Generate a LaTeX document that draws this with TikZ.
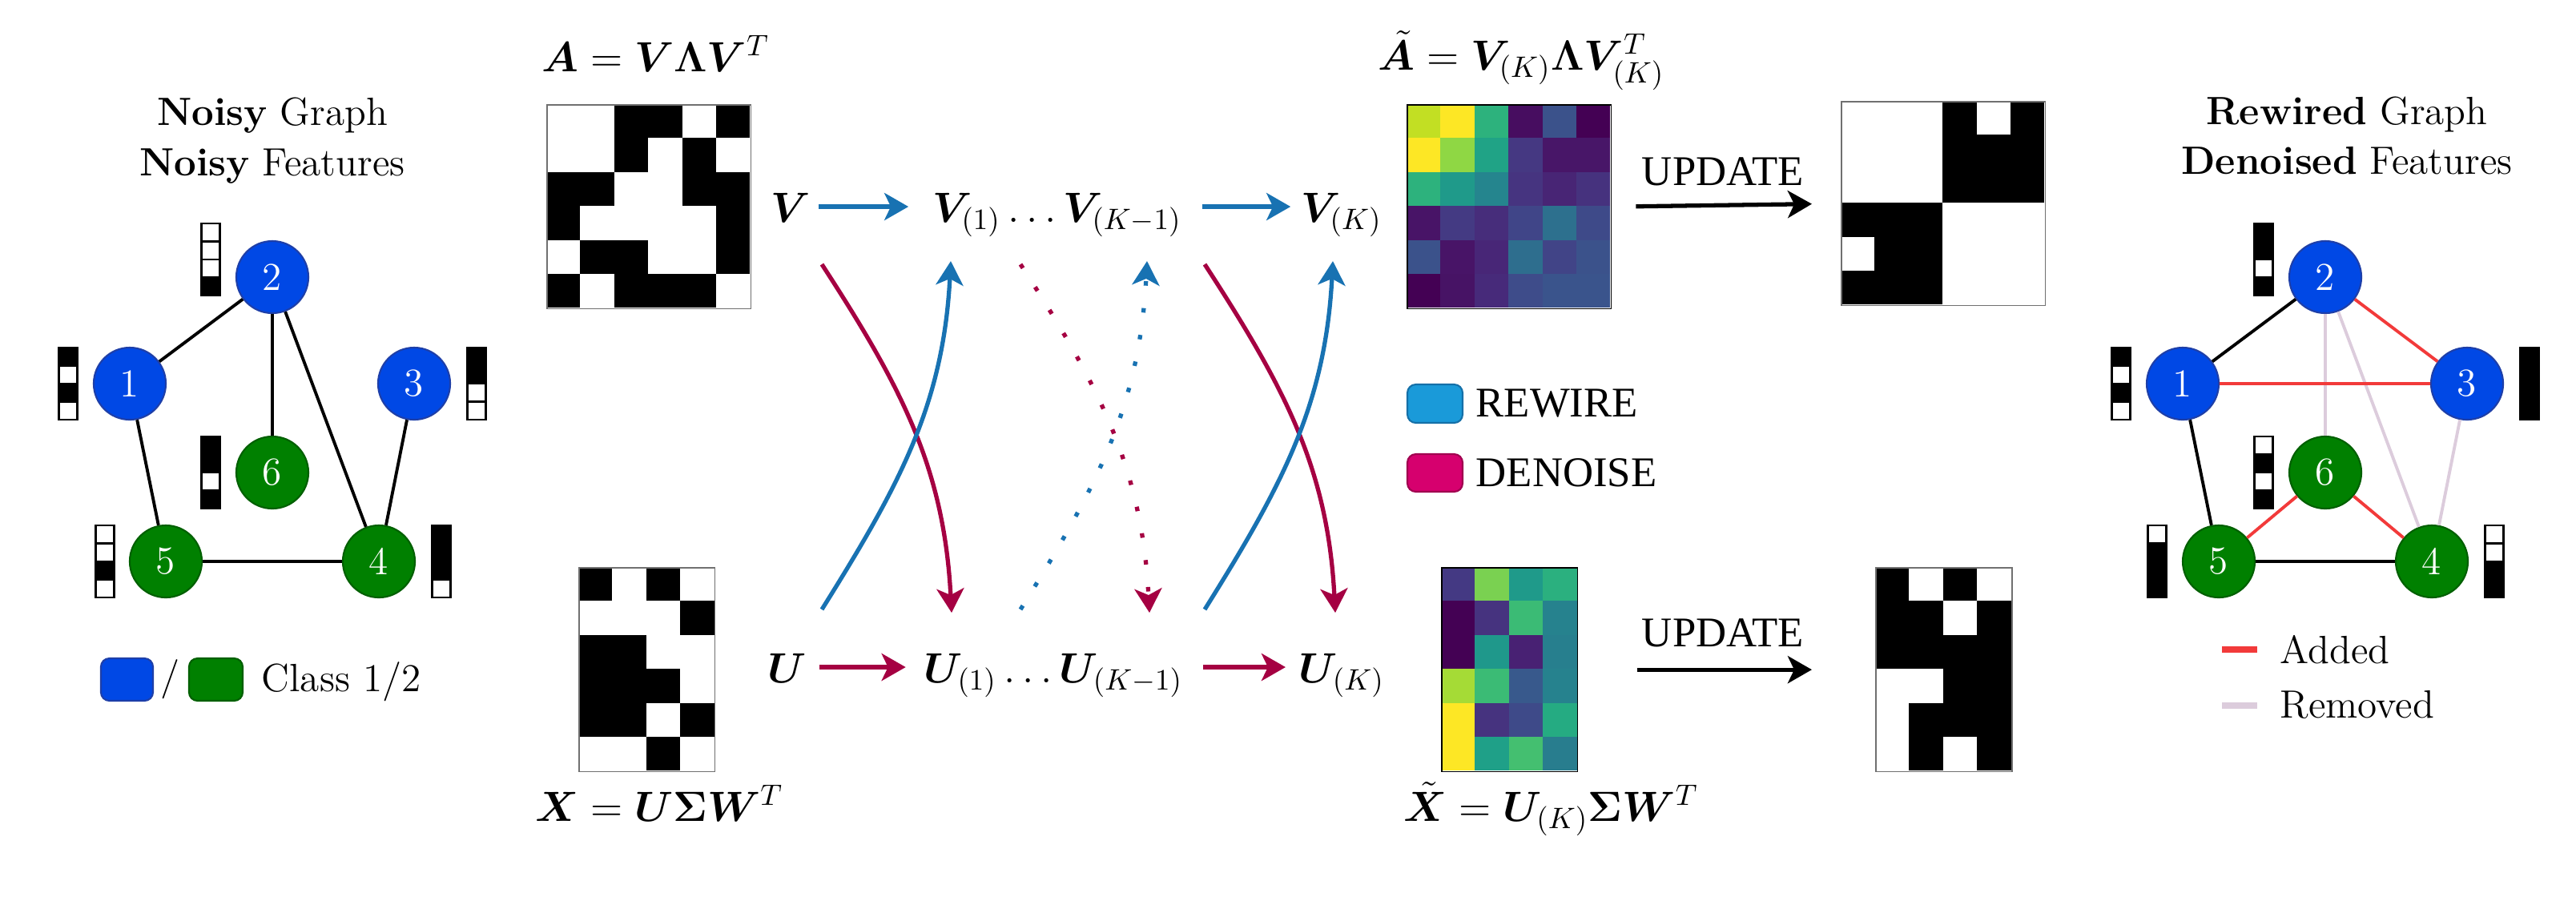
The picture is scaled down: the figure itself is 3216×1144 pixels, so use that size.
\RequirePackage{fix-cm}
\documentclass[tikz,border=0pt]{standalone}
\usepackage{amsmath}
\usepackage{bm}
\usepackage{fontspec}
\newfontfamily\tms{Liberation Serif}
\usetikzlibrary{arrows.meta}
\definecolor{nblue}{HTML}{0048E5}
\definecolor{nblueb}{HTML}{1E3FA8}
\definecolor{ngreen}{HTML}{008000}
\definecolor{ngreenb}{HTML}{005F00}
\definecolor{addc}{HTML}{F23A3A}
\definecolor{remc}{HTML}{DCCCDC}
\definecolor{rwc}{HTML}{1872B2}
\definecolor{dnc}{HTML}{A50042}
\definecolor{rwbox}{HTML}{1A9AD9}
\definecolor{rwboxb}{HTML}{1570A8}
\definecolor{dnbox}{HTML}{D6006E}
\definecolor{dnboxb}{HTML}{A0004F}
\definecolor{framec}{HTML}{707070}
\newcommand\binmat[4]{% x, y, ncols, list
  \foreach \v [count=\i from 0] in {#4} {
    \pgfmathtruncatemacro\rr{int(\i/#3)}
    \pgfmathtruncatemacro\cc{mod(\i,#3)}
    \ifnum\v=1 \fill[black] (#1+\cc*42.4, #2+\rr*42.4) rectangle ++(42.4,42.4);\fi
  }}
\newcommand\heatmat[4]{% x, y, ncols, list
  \foreach \h [count=\i from 0] in {#4} {
    \pgfmathtruncatemacro\rr{int(\i/#3)}
    \pgfmathtruncatemacro\cc{mod(\i,#3)}
    \definecolor{hc}{HTML}{\h}
    \fill[hc] (#1+\cc*42.4, #2+\rr*42.4) rectangle ++(42.4,42.4);
  }}
\newcommand\featbar[3]{% center x, center y, list
  \foreach \v [count=\i from 0] in {#3} {
    \ifnum\v=1 \def\fcol{black}\else\def\fcol{white}\fi
    \filldraw[fill=\fcol, draw=black, line width=0.6pt] (#1-11.5, #2-45+\i*22.5) rectangle ++(23,22.5);
  }}
\begin{document}
\begin{tikzpicture}[x=0.01cm, y=-0.01cm,
  gnode/.style={circle, minimum size=0.9cm, inner sep=0pt, line width=0.6pt, font=\fontsize{14}{16}\selectfont, text=white},
  bnode/.style={gnode, fill=nblue, draw=nblueb},
  gnn/.style={gnode, fill=ngreen, draw=ngreenb},
  edge/.style={line width=1.1pt, draw=black},
  added/.style={line width=1.1pt, draw=addc},
  removed/.style={line width=1.1pt, draw=remc},
  mth/.style={inner sep=0pt, anchor=base, font=\fontsize{15}{18}\selectfont},
  ttl/.style={inner sep=0pt, anchor=base, font=\fontsize{14}{17}\selectfont},
  cmtxt/.style={inner sep=0pt, font=\fontsize{14}{17}\selectfont},
  tmtxt/.style={inner sep=0pt, anchor=base west, font=\tms\fontsize{15}{18}\selectfont},
  tip/.style={-{Stealth[length=0.3cm,width=0.34cm,inset=0.08cm]}},
  rw/.style={tip, draw=rwc, line width=1.5pt},
  dn/.style={tip, draw=dnc, line width=1.5pt},
  dotl/.style={dash pattern=on 1.6pt off 8pt},
  upd/.style={tip, draw=black, line width=1.5pt},
  frame/.style={draw=framec, line width=0.5pt, inner sep=0pt, anchor=north west},
  lbox/.style={rounded corners=3pt, line width=0.6pt}
]
\useasboundingbox (0,0) rectangle (3216,1144);

% ---------------- left graph ----------------
\node[ttl] (ltitle1) at (340,156) {\textbf{Noisy} Graph};
\node[ttl] (ltitle2) at (340,219) {\textbf{Noisy} Features};
\node[bnode] (L1) at (162,479) {1};
\node[bnode] (L2) at (340,346) {2};
\node[bnode] (L3) at (517,479) {3};
\node[gnn] (L4) at (473,701) {4};
\node[gnn] (L5) at (207,701) {5};
\node[gnn] (L6) at (340,590) {6};
\draw[edge] (L1) -- (L2);
\draw[edge] (L2) -- (L6);
\draw[edge] (L2) -- (L4);
\draw[edge] (L3) -- (L4);
\draw[edge] (L1) -- (L5);
\draw[edge] (L5) -- (L4);
\featbar{85}{479}{1,0,1,0}
\featbar{263}{324}{0,0,0,1}
\featbar{595}{479}{1,1,0,0}
\featbar{551}{701}{1,1,1,0}
\featbar{131}{701}{0,0,1,0}
\featbar{263}{590}{1,1,0,1}
\filldraw[lbox, fill=nblue, draw=nblueb] (126,822) rectangle (191,875);
\node[cmtxt] (slash) at (213,848) {/};
\filldraw[lbox, fill=ngreen, draw=ngreenb] (236,822) rectangle (303,875);
\node[cmtxt, anchor=base west] (cls) at (326,863) {Class 1/2};

% ---------------- input matrices ----------------
\node[mth, anchor=base west] (Alab) at (676,89) {$\bm{A}=\bm{V}\bm{\Lambda}\bm{V}^T$};
\binmat{682}{130}{6}{0,0,1,1,0,1, 0,0,1,0,1,0, 1,1,0,0,1,1, 1,0,0,0,0,1, 0,1,1,0,0,1, 1,0,1,1,1,0}
\node[frame, minimum width=2.544cm, minimum height=2.544cm] (Amat) at (682,130) {};
\binmat{722}{708}{4}{1,0,1,0, 0,0,0,1, 1,1,0,0, 1,1,1,0, 1,1,0,1, 0,0,1,0}
\node[frame, minimum width=1.696cm, minimum height=2.544cm] (Xmat) at (722,708) {};
\node[mth, anchor=base west] (Xlab) at (668,1025) {$\bm{X}=\bm{U}\bm{\Sigma}\bm{W}^T$};

% ---------------- iteration rows ----------------
\node[mth] (V) at (987,277) {$\bm{V}$};
\node[mth] (Vmid) at (1320,277) {$\bm{V}_{(1)}\ldots\bm{V}_{(K-1)}$};
\node[mth] (VK) at (1675,277) {$\bm{V}_{(K)}$};
\node[mth] (U) at (983,852) {$\bm{U}$};
\node[mth] (Umid) at (1315,852) {$\bm{U}_{(1)}\ldots\bm{U}_{(K-1)}$};
\node[mth] (UK) at (1675,852) {$\bm{U}_{(K)}$};
\draw[rw, shorten <=0.1cm, shorten >=0.3cm] ([yshift=5.4pt]V.base east) -- ([yshift=5.4pt]Vmid.base west);
\draw[rw, shorten <=0.25cm, shorten >=0.13cm] ([yshift=5.4pt]Vmid.base east) -- ([yshift=5.4pt]VK.base west);
\draw[dn, shorten <=0.15cm, shorten >=0.22cm] ([yshift=5.4pt]U.base east) -- ([yshift=5.4pt]Umid.base west);
\draw[dn, shorten <=0.25cm, shorten >=0.16cm] ([yshift=5.4pt]Umid.base east) -- ([yshift=5.4pt]UK.base west);

\coordinate (a1) at (1026,330);
\coordinate (b1) at (1188,765);
\coordinate (c1) at (1026,761);
\coordinate (d1) at (1187,326);
\coordinate (a2) at (1274,330);
\coordinate (b2) at (1435,765);
\coordinate (c2) at (1274,761);
\coordinate (d2) at (1432,326);
\coordinate (a3) at (1504,330);
\coordinate (b3) at (1667,765);
\coordinate (c3) at (1504,761);
\coordinate (d3) at (1664,326);
\draw[dn] (a1) to[out=-57, in=93] (b1);
\draw[rw] (c1) to[out=58, in=-93] (d1);
\draw[dn, dotl] (a2) to[out=-57, in=93] (b2);
\draw[rw, dotl] (c2) to[out=58, in=-93] (d2);
\draw[dn] (a3) to[out=-57, in=93] (b3);
\draw[rw] (c3) to[out=58, in=-93] (d3);

% ---------------- output heatmaps ----------------
\node[mth, anchor=base west] (Atlab) at (1720,87) {$\tilde{\bm{A}}=\bm{V}_{(K)}\bm{\Lambda}\bm{V}_{(K)}^T$};
\heatmat{1756}{130}{6}{C2DF23,FDE725,2DB27D,470D60,3B528B,440154,
FDE725,8FD744,20A386,453882,481668,481668,
2DB27D,1F9A8A,25858E,463480,482575,46327E,
481467,443A83,472D7B,404588,2D708E,3E4A89,
3B528B,481467,482677,2E6E8E,414487,3B528B,
440154,471365,472A7A,3E4C8A,3A548C,3A548C}
\node[frame, draw=black, minimum width=2.544cm, minimum height=2.544cm] (Atil) at (1756,130) {};
\heatmat{1799}{708}{4}{443983,7AD151,1F9A8A,2BB07F,
440154,46337F,3BBB75,26828E,
440154,1F988B,482173,277F8E,
A5DB36,3BBB75,38598C,26828E,
FDE725,46337F,3E4A89,25AB82,
FDE725,1FA088,44BF70,287D8E}
\node[frame, draw=black, minimum width=1.696cm, minimum height=2.544cm] (Xtil) at (1799,708) {};
\node[mth, anchor=base west] (Xtlab) at (1752,1025) {$\tilde{\bm{X}}=\bm{U}_{(K)}\bm{\Sigma}\bm{W}^T$};

% legend rewire / denoise
\filldraw[lbox, fill=rwbox, draw=rwboxb] (1757,480) rectangle (1826,528);
\node[tmtxt] (rwlab) at (1842,520) {REWIRE};
\filldraw[lbox, fill=dnbox, draw=dnboxb] (1757,567) rectangle (1826,614);
\node[tmtxt] (dnlab) at (1842,607) {DENOISE};

% ---------------- updated matrices ----------------
\binmat{2298}{126}{6}{0,0,0,1,0,1, 0,0,0,1,1,1, 0,0,0,1,1,1, 1,1,1,0,0,0, 0,1,1,0,0,0, 1,1,1,0,0,0}
\node[frame, minimum width=2.544cm, minimum height=2.544cm] (Aupd) at (2298,126) {};
\binmat{2341}{708}{4}{1,0,1,0, 1,1,0,1, 1,1,1,1, 0,0,1,1, 0,1,1,1, 0,1,0,1}
\node[frame, minimum width=1.696cm, minimum height=2.544cm] (Xupd) at (2341,708) {};
\draw[upd, shorten <=0.3cm, shorten >=0.36cm] (Atil.east) -- (Aupd.west);
\draw[upd, shorten <=0.73cm, shorten >=0.79cm] (Xtil.east) -- (Xupd.west);
\node[tmtxt, anchor=base] (up1) at (2151,231) {UPDATE};
\node[tmtxt, anchor=base] (up2) at (2151,807) {UPDATE};

% ---------------- right graph ----------------
\node[ttl] (rtitle1) at (2930,155) {\textbf{Rewired} Graph};
\node[ttl] (rtitle2) at (2930,217) {\textbf{Denoised} Features};
\node[bnode] (R1) at (2725,479) {1};
\node[bnode] (R2) at (2903,346) {2};
\node[bnode] (R3) at (3080,479) {3};
\node[gnn] (R4) at (3036,701) {4};
\node[gnn] (R5) at (2770,701) {5};
\node[gnn] (R6) at (2903,590) {6};
\draw[removed] (R2) -- (R6);
\draw[removed] (R2) -- (R4);
\draw[removed] (R3) -- (R4);
\draw[edge] (R1) -- (R2);
\draw[edge] (R1) -- (R5);
\draw[edge] (R5) -- (R4);
\draw[added] (R2) -- (R3);
\draw[added] (R1) -- (R3);
\draw[added] (R6) -- (R5);
\draw[added] (R6) -- (R4);
\featbar{2648}{479}{1,0,1,0}
\featbar{2826}{324}{1,1,0,1}
\featbar{3158}{479}{1,1,1,1}
\featbar{3114}{701}{0,0,1,1}
\featbar{2693}{701}{0,1,1,1}
\featbar{2826}{590}{0,1,0,1}
\coordinate (ad1) at (2774,811);
\coordinate (ad2) at (2818,811);
\coordinate (rm1) at (2774,881);
\coordinate (rm2) at (2818,881);
\draw[addc, line width=2.2pt] (ad1) -- (ad2);
\draw[remc, line width=2.2pt] (rm1) -- (rm2);
\node[cmtxt, anchor=west] (addlab) at (2846,811) {Added};
\node[cmtxt, anchor=west] (remlab) at (2846,880) {Removed};
\end{tikzpicture}
\end{document}
